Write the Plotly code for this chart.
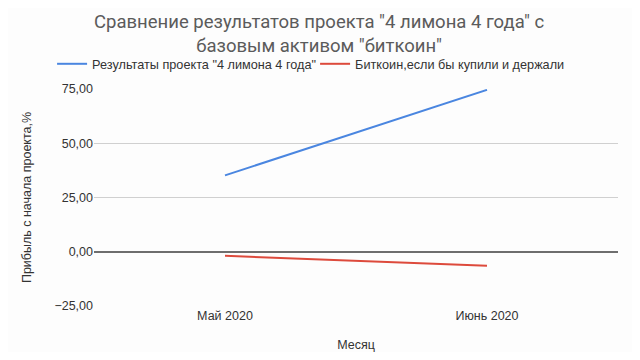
import plotly.graph_objects as go

months = ["Май 2020", "Июнь 2020"]
project = [35.2, 74.6]
bitcoin = [-1.9, -6.5]
series_names = ['Результаты проекта "4 лимона 4 года"', "Биткоин,если бы купили и держали"]
title_text = 'Сравнение результатов проекта "4 лимона 4 года" с<br>базовым активом "биткоин"'

fig = go.Figure()
fig.add_trace(go.Scatter(x=months, y=project, mode="lines", name=series_names[0],
                         line=dict(color="#4a86e0", width=2)))
fig.add_trace(go.Scatter(x=months, y=bitcoin, mode="lines", name=series_names[1],
                         line=dict(color="#dd4a3c", width=2)))

fig.update_layout(
    width=624, height=344,
    paper_bgcolor="#fdfdfd", plot_bgcolor="#fdfdfd",
    separators=", ",
    font=dict(family="Arial, Liberation Sans, sans-serif", color="#333", size=12),
    margin=dict(l=86, r=14, t=81, b=46, autoexpand=False),
    showlegend=True,
    legend=dict(orientation="h", x=-0.08, xanchor="left", y=1.115, yref="paper",
                yanchor="middle", font=dict(size=12.7, color="#333"),
                itemwidth=30, entrywidth=218, entrywidthmode="pixels",
                bgcolor="rgba(0,0,0,0)"),
    xaxis=dict(range=[-0.5, 1.5], showgrid=False, zeroline=False, showline=False,
               ticks="", tickfont=dict(size=12.5, color="#333"),
               title=dict(text="Месяц", font=dict(size=12.5, color="#333"), standoff=24)),
    yaxis=dict(range=[-25, 75], tickvals=[-25, 0, 25, 50, 75], tickformat=".2f",
               showgrid=True, gridcolor="#d0d0d0", gridwidth=1,
               zeroline=True, zerolinecolor="#6e6e6e", zerolinewidth=2,
               ticks="", tickfont=dict(size=12.5, color="#333"),
               title=dict(text="Прибыль с начала проекта,%", font=dict(size=12.5, color="#333"), standoff=20)),
)
fig.add_annotation(text=title_text, xref="paper", yref="paper", x=0.431, y=1.2535,
                   xanchor="center", yanchor="middle", showarrow=False,
                   font=dict(family="Roboto, Arial, sans-serif", size=18.5, color="#5b5b5b"))

fig.write_html("out.html")
